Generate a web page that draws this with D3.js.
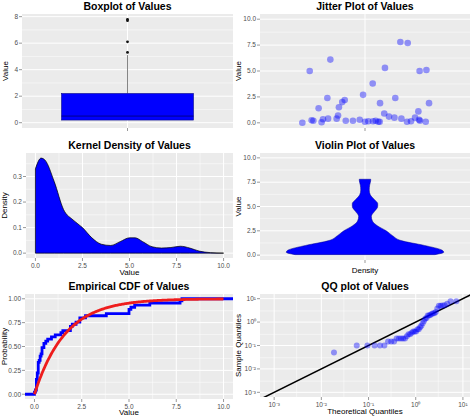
<!DOCTYPE html><html><head><meta charset="utf-8">
<script src="https://cdn.jsdelivr.net/npm/d3@7"></script>
<style>body{margin:0;background:#fff}text{font-family:"Liberation Sans",Arial,sans-serif}</style></head><body>
<svg id="c" width="474" height="419"></svg>
<script>
const values=[0.0,5.0,0.25,0.2,1.4,0.05,0.35,2.4,0.4,6.1,0.4,0.7,1.5,2.0,2.2,0.2,0.2,0.3,2.7,0.1,0.15,3.8,0.15,0.2,0.1,0.1,1.9,0.9,5.3,0.6,0.5,2.4,0.4,7.8,0.1,7.7,0.15,0.5,1.1,0.3,5.0,0.2,0.1,5.1,1.9];
const jitter=[-0.358,-0.316,-0.305,-0.295,-0.265,-0.248,-0.24,-0.215,-0.211,-0.198,-0.162,-0.154,-0.149,-0.13,-0.116,-0.11,-0.069,-0.03,-0.011,0,0.019,0.044,0.046,0.061,0.076,0.084,0.086,0.11,0.114,0.137,0.168,0.173,0.208,0.202,0.24,0.244,0.263,0.286,0.305,0.309,0.312,0.314,0.347,0.351,0.366];
const densX=[0,0.3,0.5,1,1.5,2,2.5,3,3.5,4,4.5,5,5.3,5.7,6.2,6.7,7.2,7.7,8.2,8.7,9.3,10];
const densY=[0.33,0.372,0.365,0.28,0.17,0.13,0.1,0.06,0.035,0.03,0.045,0.06,0.06,0.045,0.025,0.02,0.022,0.027,0.02,0.008,0.002,0];
const boxStats={q1:0.2,median:0.5,q3:2.2,lo:0,hi:5.1};
const outliers=[5.3,6.1,7.7,7.8];
const svg=d3.select("#c");
const BG="#EBEBEB",TC="#4D4D4D";
function panel(x0,y0,x1,y1,title,xs,ys,xlab,ylab,xt,yt,xfmt,yfmt,minX,minY,xlabOff,ylabOff){
  const g=svg.append("g");
  g.append("rect").attr("x",x0).attr("y",y0).attr("width",x1-x0).attr("height",y1-y0).attr("fill",BG);
  (minY||[]).forEach(v=>g.append("line").attr("x1",x0).attr("x2",x1).attr("y1",ys(v)).attr("y2",ys(v)).attr("stroke","#fff").attr("stroke-width",0.5));
  (minX||[]).forEach(v=>g.append("line").attr("y1",y0).attr("y2",y1).attr("x1",xs(v)).attr("x2",xs(v)).attr("stroke","#fff").attr("stroke-width",0.5));
  yt.forEach(v=>{g.append("line").attr("x1",x0).attr("x2",x1).attr("y1",ys(v)).attr("y2",ys(v)).attr("stroke","#fff").attr("stroke-width",1);
    g.append("line").attr("x1",x0-3).attr("x2",x0).attr("y1",ys(v)).attr("y2",ys(v)).attr("stroke","#333").attr("stroke-width",0.5);
    g.append("text").attr("x",x0-4).attr("y",ys(v)+2.3).attr("text-anchor","end").attr("font-size",6.5).attr("fill",TC).text(yfmt(v));});
  xt.forEach(v=>{g.append("line").attr("y1",y0).attr("y2",y1).attr("x1",xs(v)).attr("x2",xs(v)).attr("stroke","#fff").attr("stroke-width",1);
    g.append("line").attr("y1",y1).attr("y2",y1+3).attr("x1",xs(v)).attr("x2",xs(v)).attr("stroke","#333").attr("stroke-width",0.5);
    const s=xfmt(v); if(s) g.append("text").attr("x",xs(v)).attr("y",y1+9.5).attr("text-anchor","middle").attr("font-size",6.5).attr("fill",TC).text(s);});
  g.append("text").attr("x",(x0+x1)/2).attr("y",y0-4).attr("text-anchor","middle").attr("font-size",10.5).attr("font-weight","bold").text(title);
  if(xlab) g.append("text").attr("x",(x0+x1)/2).attr("y",y1+(xlabOff||18)).attr("text-anchor","middle").attr("font-size",8).text(xlab);
  g.append("text").attr("transform",`translate(${x0-(ylabOff||19)},${(y0+y1)/2}) rotate(-90)`).attr("text-anchor","middle").attr("font-size",8).text(ylab);
  return g;
}
const f1=d=>d3.format(".1f")(d), f0=d=>d3.format("d")(d);
// Boxplot
{const x=d3.scaleLinear().domain([-0.6,0.6]).range([22,233]);const y=d3.scaleLinear().domain([-0.4,8.2]).range([128,14]);
const g=panel(22,14,233,128,"Boxplot of Values",x,y,"","Value",[0],[0,2,4,6,8],()=>"",f0,[],[1,3,5,7],0,14);
const bw=0.375;
g.append("line").attr("x1",x(0)).attr("x2",x(0)).attr("y1",y(boxStats.q3)).attr("y2",y(boxStats.hi)).attr("stroke","#333").attr("stroke-width",0.6);
g.append("rect").attr("x",x(-bw)).attr("width",x(bw)-x(-bw)).attr("y",y(boxStats.q3)).attr("height",y(boxStats.q1)-y(boxStats.q3)).attr("fill","#0000FF").attr("stroke","#00008B").attr("stroke-width",0.6);
g.append("line").attr("x1",x(-bw)).attr("x2",x(bw)).attr("y1",y(boxStats.median)).attr("y2",y(boxStats.median)).attr("stroke","#00008B").attr("stroke-width",1);
outliers.forEach(v=>g.append("circle").attr("cx",x(0)).attr("cy",y(v)).attr("r",1.4).attr("fill","#111"));}
// Jitter
{const x=d3.scaleLinear().domain([-0.6,0.6]).range([260,470]);const y=d3.scaleLinear().domain([-0.5,10.5]).range([128,14]);
const g=panel(260,14,470,128,"Jitter Plot of Values",x,y,"","Value",[0],[0,2.5,5,7.5,10],()=>"",f1,[],[1.25,3.75,6.25,8.75]);
values.forEach((v,i)=>g.append("circle").attr("cx",x(jitter[i])).attr("cy",y(v)).attr("r",3.3).attr("fill","#0000FF").attr("fill-opacity",0.4));}
// Kernel density
{const x=d3.scaleLinear().domain([-0.5,10.5]).range([26,233]);const y=d3.scaleLinear().domain([-0.019,0.392]).range([258,153]);
const g=panel(26,153,233,258,"Kernel Density of Values",x,y,"Value","Density",[0,2.5,5,7.5,10],[0,0.1,0.2,0.3],f1,f1,[1.25,3.75,6.25,8.75],[0.05,0.15,0.25,0.35],17,19);
const pts=densX.map((d,i)=>[d,densY[i]]);
const area=d3.area().x(d=>x(d[0])).y0(y(0)).y1(d=>y(d[1])).curve(d3.curveMonotoneX);
g.append("path").attr("d",area(pts)).attr("fill","#0000FF").attr("stroke","#000").attr("stroke-width",0.7);}
// Violin
{const x=d3.scaleLinear().domain([-0.6,0.6]).range([260,470]);const y=d3.scaleLinear().domain([-0.5,10.5]).range([260,153]);
const g=panel(260,153,470,260,"Violin Plot of Values",x,y,"Density","Value",[0],[0,2.5,5,7.5,10],()=>"",f1,[],[1.25,3.75,6.25,8.75],13);
const mx=d3.max(densY), hw=0.45;
const pts=densX.map((d,i)=>[d,densY[i]]).filter(p=>p[0]<=7.8);
pts[0][0]=0.05; pts.push([7.8,0.027]);
const line=d3.area().y(d=>y(d[0])).x0(d=>x(-hw*d[1]/mx)).x1(d=>x(hw*d[1]/mx)).curve(d3.curveMonotoneY);
g.append("path").attr("d",line(pts)).attr("fill","#0000FF").attr("stroke","#00008B").attr("stroke-width",0.5);}
// ECDF
{const x=d3.scaleLinear().domain([-0.5,10.5]).range([25,233]);const y=d3.scaleLinear().domain([-0.05,1.05]).range([399,294]);
const g=panel(25,294,233,399,"Empirical CDF of Values",x,y,"Value","Probability",[0,2.5,5,7.5,10],[0,0.25,0.5,0.75,1],f1,d=>d3.format(".2f")(d),[1.25,3.75,6.25,8.75],[0.125,0.375,0.625,0.875],16,18);
const s=values.slice().sort(d3.ascending), n=s.length;
const st=[[-0.5,0]]; s.forEach((v,i)=>st.push([v,(i+1)/n]));st.push([10.5,1]);
g.append("path").attr("d",d3.line().x(d=>x(d[0])).y(d=>y(d[1])).curve(d3.curveStepAfter)(st)).attr("fill","none").attr("stroke","#0000FF").attr("stroke-width",2.8);
const m=d3.mean(values), cx=d3.range(0,10.01,0.05);
g.append("path").attr("d",d3.line().x(d=>x(d)).y(d=>y(1-Math.exp(-d/m)))(cx)).attr("fill","none").attr("stroke","#EE1C1C").attr("stroke-width",2.8);}
// QQ
{const x=d3.scaleLog().domain([10**-3.3,10**1.15]).range([260,470]);const y=d3.scaleLog().domain([10**-3.2,10**1.2]).range([397,294]);
const sup=d=>{const e=Math.round(Math.log10(d));return "10"+(e<0?"⁻":"")+"⁰¹²³⁴⁵⁶⁷⁸⁹"[Math.abs(e)];};
const dec=[1e-3,1e-2,1e-1,1,10];
const minor=[];dec.forEach(d=>[3].forEach(k=>minor.push(d*k)));
const g=panel(260,294,470,397,"QQ plot of Values",x,y,"Theoretical Quantiles","Sample Quantiles",dec,dec,sup,sup,minor.filter(v=>v<14),minor.filter(v=>v<15),17);
const s=values.filter(v=>v>0).sort(d3.ascending), n=s.length, m=d3.mean(values);
g.append("clipPath").attr("id","qc").append("rect").attr("x",260).attr("y",294).attr("width",210).attr("height",103);
g.append("line").attr("clip-path","url(#qc)").attr("x1",x(10**-3.3)).attr("y1",y(10**-3.3)).attr("x2",x(20)).attr("y2",y(20)).attr("stroke","#000").attr("stroke-width",1.5);
s.forEach((v,i)=>{const t=-m*Math.log(1-(i+0.5)/n);g.append("circle").attr("cx",x(t)).attr("cy",y(v)).attr("r",3).attr("fill","#0000FF").attr("fill-opacity",0.4);});}
</script></body></html>
